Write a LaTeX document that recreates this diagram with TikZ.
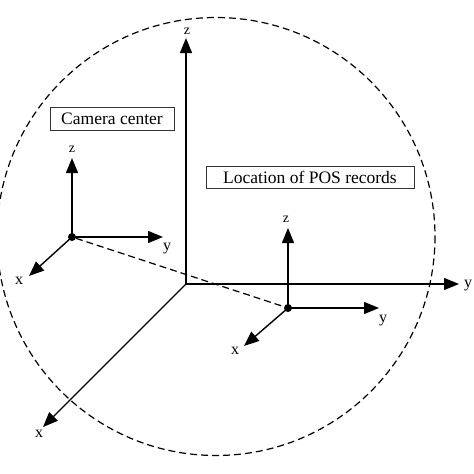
\documentclass[tikz,border=0pt]{standalone}
\usepackage{fontspec}
\setmainfont{Liberation Serif}
\usetikzlibrary{arrows.meta}
\begin{document}
\begin{tikzpicture}[x=1pt,y=-1pt,
  axis/.style={line width=1.4pt,-{Triangle[length=15pt,width=12pt]}},
  lbl/.style={inner sep=0pt,font=\fontsize{16}{16}\selectfont},
  zlbl/.style={inner sep=0pt,font=\fontsize{14}{14}\selectfont},
  txtbox/.style={draw=black!80,line width=0.9pt,inner sep=0pt,font=\fontsize{17.5}{17.5}\selectfont},
  dashline/.style={line width=1.2pt,dash pattern=on 7pt off 4pt},
  dot/.style={circle,fill=black,inner sep=0pt,minimum size=8pt}]
\useasboundingbox (0,0) rectangle (474,474);
\fill[white] (0,0) rectangle (474,474);
% dashed circle
\draw[dashline] (216,236.5) circle[radius=219];
% main frame
\coordinate (O) at (186,284);
\coordinate (Oz) at (186,38);
\coordinate (Oy) at (459,284);
\coordinate (Ox) at (43,427);
\draw[axis] (O) -- (Oz);
\draw[axis] (O) -- (Oy);
\draw[axis] (O) -- (Ox);
\node[zlbl] (Ozl) at (187,31) {z};
\node[lbl] (Oyl) at (468,286) {y};
\node[lbl] (Oxl) at (39,434) {x};
% camera frame
\node[dot] (C) at (72,237) {};
\coordinate (Cz) at (72,158);
\coordinate (Cy) at (163,237);
\coordinate (Cx) at (29,276);
% POS frame
\node[dot] (P) at (288,308) {};
\coordinate (Pz) at (288,228);
\coordinate (Py) at (379,308);
\coordinate (Px) at (244,346);
\draw[dashline] (C) -- (P);
\draw[axis] (C.center) -- (Cz);
\draw[axis] (C.center) -- (Cy);
\draw[axis] (C.center) -- (Cx);
\node[zlbl] (Czl) at (72,149) {z};
\node[lbl] (Cyl) at (167,249) {y};
\node[lbl] (Cxl) at (19,281) {x};
\draw[axis] (P.center) -- (Pz);
\draw[axis] (P.center) -- (Py);
\draw[axis] (P.center) -- (Px);
\node[zlbl] (Pzl) at (286,219) {z};
\node[lbl] (Pyl) at (383,321) {y};
\node[lbl] (Pxl) at (235,351) {x};
% boxes
\node[txtbox,minimum width=124pt,minimum height=23pt] (cam) at (112,118.5) {Camera center};
\node[txtbox,minimum width=208pt,minimum height=22pt] (pos) at (310,177) {Location of POS records};
\end{tikzpicture}
\end{document}
